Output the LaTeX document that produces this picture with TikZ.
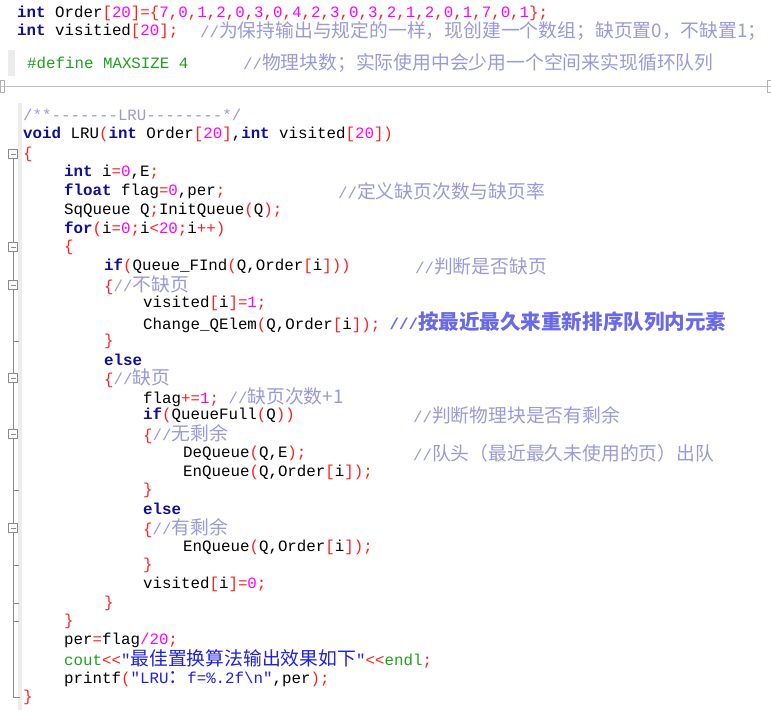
\documentclass[tikz,border=0pt]{standalone}
\usepackage{fontspec}
\setmonofont{Liberation Mono}
\newfontfamily\cjkf[Scale=1.19]{Noto Sans CJK SC}
\newfontfamily\cjkb[Scale=1.3]{Noto Sans CJK SC}
\definecolor{kwc}{HTML}{101090}
\definecolor{nmc}{HTML}{FF00FF}
\definecolor{opc}{HTML}{FF2020}
\definecolor{cmc}{HTML}{9A9AD8}
\definecolor{cmb}{HTML}{6A6AE8}
\definecolor{dfc}{HTML}{20A020}
\definecolor{stc}{HTML}{2020E0}
\definecolor{gut}{HTML}{8A8A8A}
\newcommand{\kw}[1]{\textcolor{kwc}{\bfseries #1}}
\newcommand{\nm}[1]{\textcolor{nmc}{#1}}
\newcommand{\op}[1]{\textcolor{opc}{#1}}
\newcommand{\cm}[1]{\textcolor{cmc}{#1}}
\newcommand{\cj}[1]{{\cjkf #1}}
\newcommand{\Ln}[4]{\node[codeline] (#1) at (#2,#3) {#4};}
\newcommand{\fold}[2]{\node[foldbox] (#1) at (13,#2) {};}
\tikzset{
  codeline/.style={anchor=west,inner sep=0pt,font=\ttfamily\fontsize{15.8}{19}\selectfont,text=black},
  foldbox/.style={draw=gut,fill=white,minimum size=9pt,inner sep=0pt,path picture={\draw[gut] ([xshift=2pt]path picture bounding box.west) -- ([xshift=-2pt]path picture bounding box.east);}},
  gutline/.style={draw=gut,line width=0.8pt}
}
\begin{document}
\begin{tikzpicture}[x=1pt,y=-1pt]
\useasboundingbox[fill=white] (0,0) rectangle (771,713);
% gutter
\fill[gray!15] (8,50) rectangle (15,76);
\draw[gray!50] (0,86) -- (771,86);
\draw[gray!60] (0,80) rectangle (4,92);
\draw[gray!60] (767,80) rectangle (771,92);
\fill[gray!15] (18,103) rectangle (22,710);
\coordinate (gtop) at (13,159);
\coordinate (gbot) at (13,697);
\draw[gutline] (gtop) -- (gbot) -- (20,697);
\foreach \y in {341,490,565,603,621} \draw[gutline] (13,\y) -- (19,\y);
\fold{f1}{154}\fold{f2}{247}\fold{f3}{285}\fold{f4}{378}\fold{f5}{434}\fold{f6}{528}
% code
\Ln{l1}{17}{13}{\kw{int} Order\op{[}\nm{20}\op{]=\{}\nm{7}\op{,}\nm{0}\op{,}\nm{1}\op{,}\nm{2}\op{,}\nm{0}\op{,}\nm{3}\op{,}\nm{0}\op{,}\nm{4}\op{,}\nm{2}\op{,}\nm{3}\op{,}\nm{0}\op{,}\nm{3}\op{,}\nm{2}\op{,}\nm{1}\op{,}\nm{2}\op{,}\nm{0}\op{,}\nm{1}\op{,}\nm{7}\op{,}\nm{0}\op{,}\nm{1}\op{\};}}
\Ln{l2}{17}{31}{\kw{int} visitied\op{[}\nm{20}\op{];}}
\Ln{c2}{200}{31}{\cm{//\cj{为保持输出与规定的一样，现创建一个数组；缺页置0，不缺置1；}}}
\Ln{l3}{27}{63}{\textcolor{dfc}{\#define MAXSIZE 4}}
\Ln{c3}{243}{63}{\cm{//\cj{物理块数；实际使用中会少用一个空间来实现循环队列}}}
\Ln{l4}{23}{115}{\cm{/**-------LRU--------*/}}
\Ln{l5}{23}{134}{\kw{void} LRU\op{(}\kw{int} Order\op{[}\nm{20}\op{]},\kw{int} visited\op{[}\nm{20}\op{])}}
\Ln{l6}{23}{154}{\op{\{}}
\Ln{l7}{64}{172}{\kw{int} i\op{=}\nm{0},E\op{;}}
\Ln{l8}{64}{191}{\kw{float} flag\op{=}\nm{0},per\op{;}}
\Ln{c8}{338}{191}{\cm{//\cj{定义缺页次数与缺页率}}}
\Ln{l9}{64}{210}{SqQueue Q\op{;}InitQueue\op{(}Q\op{);}}
\Ln{l10}{64}{229}{\kw{for}\op{(}i\op{=}\nm{0}\op{;}i\op{<}\nm{20}\op{;}i\op{++)}}
\Ln{l11}{64}{247}{\op{\{}}
\Ln{l12}{104}{266}{\kw{if}\op{(}Queue\_FInd\op{(}Q,Order\op{[}i\op{]))}}
\Ln{c12}{415}{266}{\cm{//\cj{判断是否缺页}}}
\Ln{l13}{104}{285}{\op{\{}\cm{//\cj{不缺页}}}
\Ln{l14}{143}{303}{visited\op{[}i\op{]=}\nm{1}\op{;}}
\Ln{l15}{143}{322}{Change\_QElem\op{(}Q,Order\op{[}i\op{]);} \textcolor{cmb}{\bfseries ///{\cjkb 按最近最久来重新排序队列内元素}}}
\Ln{l16}{104}{341}{\op{\}}}
\Ln{l17}{104}{360}{\kw{else}}
\Ln{l18}{104}{378}{\op{\{}\cm{//\cj{缺页}}}
\Ln{l19}{143}{397}{flag\op{+=}\nm{1}\op{;} \cm{//\cj{缺页次数+1}}}
\Ln{l20}{143}{415}{\kw{if}\op{(}QueueFull\op{(}Q\op{))}}
\Ln{c20}{413}{415}{\cm{//\cj{判断物理块是否有剩余}}}
\Ln{l21}{143}{434}{\op{\{}\cm{//\cj{无剩余}}}
\Ln{l22}{183}{453}{DeQueue\op{(}Q,E\op{);}}
\Ln{c22}{413}{453}{\cm{//\cj{队头（最近最久未使用的页）出队}}}
\Ln{l23}{183}{472}{EnQueue\op{(}Q,Order\op{[}i\op{]);}}
\Ln{l24}{143}{490}{\op{\}}}
\Ln{l25}{143}{509}{\kw{else}}
\Ln{l26}{143}{528}{\op{\{}\cm{//\cj{有剩余}}}
\Ln{l27}{183}{547}{EnQueue\op{(}Q,Order\op{[}i\op{]);}}
\Ln{l28}{143}{565}{\op{\}}}
\Ln{l29}{143}{584}{visited\op{[}i\op{]=}\nm{0}\op{;}}
\Ln{l30}{104}{603}{\op{\}}}
\Ln{l31}{64}{621}{\op{\}}}
\Ln{l32}{64}{640}{per\op{=}flag\nm{/20}\op{;}}
\Ln{l33}{64}{659}{\textcolor{dfc}{cout}\op{<<}\textcolor{stc}{"\cj{最佳置换算法输出效果如下}"}\op{<<}\textcolor{dfc}{endl}\op{;}}
\Ln{l34}{64}{679}{printf\op{(}\textcolor{stc}{"LRU\cj{：}f=\%.2f\textbackslash n"},per\op{);}}
\Ln{l35}{23}{697}{\op{\}}}
\end{tikzpicture}
\end{document}
